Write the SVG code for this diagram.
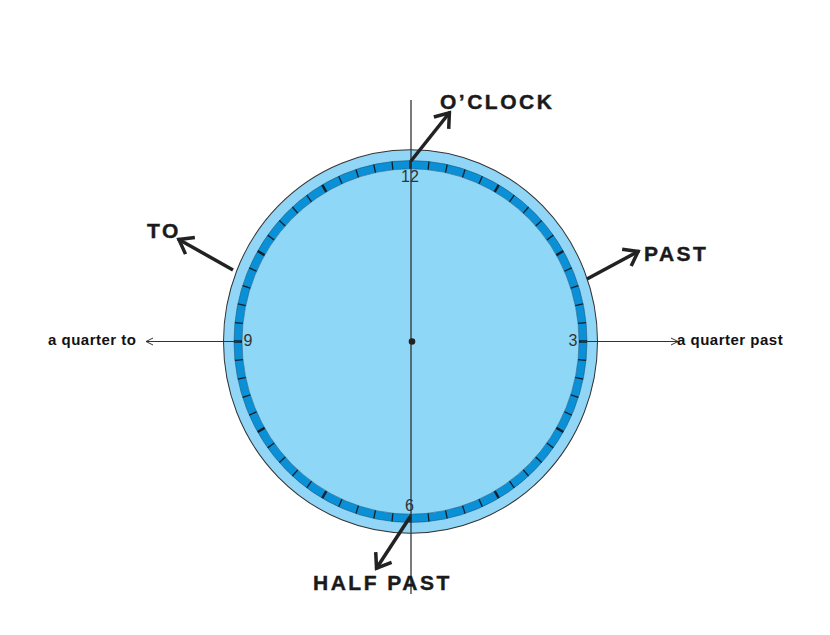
<svg xmlns="http://www.w3.org/2000/svg" xmlns:xlink="http://www.w3.org/1999/xlink" width="830" height="635" viewBox="0 0 830 635">
  <style>
    .big { font-family: "Liberation Sans", Arial, sans-serif; font-weight: bold; font-size: 21px; letter-spacing: 2.5px; fill: #1a1a1a; stroke: #1a1a1a; stroke-width: 0.4; }
    .small { font-family: "Liberation Sans", Arial, sans-serif; font-weight: bold; font-size: 15px; letter-spacing: 0.5px; fill: #111; }
    .num { font-family: "Liberation Sans", Arial, sans-serif; font-size: 16px; fill: #333; }
    .thick { stroke: #222; stroke-width: 3.5; fill: none; marker-end: url(#bigHead); }
    .thin { stroke: #333; stroke-width: 1; fill: none; marker-end: url(#smallHead); }
    .axis { stroke: #333; stroke-width: 1.3; fill: none; }
    .mt { stroke: #14202a; stroke-width: 1.3; }
    .ht { stroke: #14202a; stroke-width: 2.4; }
  </style>
  <defs>
    <marker id="bigHead" markerUnits="userSpaceOnUse" markerWidth="30" markerHeight="30" viewBox="-20 -15 30 30" refX="1" refY="0" orient="auto">
      <path d="M -13,-9.5 L 0,0 L -13,9.5" fill="none" stroke="#222" stroke-width="3.5" stroke-linejoin="miter"/>
    </marker>
    <marker id="smallHead" markerUnits="userSpaceOnUse" markerWidth="14" markerHeight="14" viewBox="-10 -7 14 14" refX="0" refY="0" orient="auto">
      <path d="M -7,-3.5 L 0,0 L -7,3.5" fill="none" stroke="#333" stroke-width="1"/>
    </marker>
    <line id="m" x1="0" y1="-176.5" x2="0" y2="-168.5" class="mt"/>
    <line id="h" x1="0" y1="-176.5" x2="0" y2="-168.5" class="ht"/>
  </defs>
  <rect width="830" height="635" fill="#ffffff"/>

  <g id="clock">
    <g transform="translate(410.5,341.5) scale(1,1.025)">
      <circle r="187" fill="#91d6f6" stroke="#333" stroke-width="1"/>
      <circle r="172.5" fill="none" stroke="#0a90d6" stroke-width="8"/>
      <circle r="176.5" fill="none" stroke="#1d5a80" stroke-width="0.6"/>
      <circle r="168.5" fill="#8fd7f6" stroke="#1d5a80" stroke-width="0.6"/>
      <g id="ticks">
        <use xlink:href="#h" transform="rotate(0)"/>
        <use xlink:href="#m" transform="rotate(6)"/>
        <use xlink:href="#m" transform="rotate(12)"/>
        <use xlink:href="#m" transform="rotate(18)"/>
        <use xlink:href="#m" transform="rotate(24)"/>
        <use xlink:href="#h" transform="rotate(30)"/>
        <use xlink:href="#m" transform="rotate(36)"/>
        <use xlink:href="#m" transform="rotate(42)"/>
        <use xlink:href="#m" transform="rotate(48)"/>
        <use xlink:href="#m" transform="rotate(54)"/>
        <use xlink:href="#h" transform="rotate(60)"/>
        <use xlink:href="#m" transform="rotate(66)"/>
        <use xlink:href="#m" transform="rotate(72)"/>
        <use xlink:href="#m" transform="rotate(78)"/>
        <use xlink:href="#m" transform="rotate(84)"/>
        <use xlink:href="#h" transform="rotate(90)"/>
        <use xlink:href="#m" transform="rotate(96)"/>
        <use xlink:href="#m" transform="rotate(102)"/>
        <use xlink:href="#m" transform="rotate(108)"/>
        <use xlink:href="#m" transform="rotate(114)"/>
        <use xlink:href="#h" transform="rotate(120)"/>
        <use xlink:href="#m" transform="rotate(126)"/>
        <use xlink:href="#m" transform="rotate(132)"/>
        <use xlink:href="#m" transform="rotate(138)"/>
        <use xlink:href="#m" transform="rotate(144)"/>
        <use xlink:href="#h" transform="rotate(150)"/>
        <use xlink:href="#m" transform="rotate(156)"/>
        <use xlink:href="#m" transform="rotate(162)"/>
        <use xlink:href="#m" transform="rotate(168)"/>
        <use xlink:href="#m" transform="rotate(174)"/>
        <use xlink:href="#h" transform="rotate(180)"/>
        <use xlink:href="#m" transform="rotate(186)"/>
        <use xlink:href="#m" transform="rotate(192)"/>
        <use xlink:href="#m" transform="rotate(198)"/>
        <use xlink:href="#m" transform="rotate(204)"/>
        <use xlink:href="#h" transform="rotate(210)"/>
        <use xlink:href="#m" transform="rotate(216)"/>
        <use xlink:href="#m" transform="rotate(222)"/>
        <use xlink:href="#m" transform="rotate(228)"/>
        <use xlink:href="#m" transform="rotate(234)"/>
        <use xlink:href="#h" transform="rotate(240)"/>
        <use xlink:href="#m" transform="rotate(246)"/>
        <use xlink:href="#m" transform="rotate(252)"/>
        <use xlink:href="#m" transform="rotate(258)"/>
        <use xlink:href="#m" transform="rotate(264)"/>
        <use xlink:href="#h" transform="rotate(270)"/>
        <use xlink:href="#m" transform="rotate(276)"/>
        <use xlink:href="#m" transform="rotate(282)"/>
        <use xlink:href="#m" transform="rotate(288)"/>
        <use xlink:href="#m" transform="rotate(294)"/>
        <use xlink:href="#h" transform="rotate(300)"/>
        <use xlink:href="#m" transform="rotate(306)"/>
        <use xlink:href="#m" transform="rotate(312)"/>
        <use xlink:href="#m" transform="rotate(318)"/>
        <use xlink:href="#m" transform="rotate(324)"/>
        <use xlink:href="#h" transform="rotate(330)"/>
        <use xlink:href="#m" transform="rotate(336)"/>
        <use xlink:href="#m" transform="rotate(342)"/>
        <use xlink:href="#m" transform="rotate(348)"/>
        <use xlink:href="#m" transform="rotate(354)"/>
      </g>
    </g>
    <text class="num" x="410" y="182" text-anchor="middle">12</text>
    <text class="num" x="248" y="346" text-anchor="middle">9</text>
    <text class="num" x="573" y="346" text-anchor="middle">3</text>
    <text class="num" x="409.5" y="511" text-anchor="middle">6</text>
  </g>

  <g id="connectors">
    <line class="axis" x1="411" y1="100" x2="411" y2="594"/>
    <line class="thin" x1="240" y1="341.5" x2="146" y2="341.5"/>
    <line class="thin" x1="581" y1="341.5" x2="678" y2="341.5"/>
    <line class="thick" x1="411" y1="161" x2="450" y2="112"/>
    <line class="thick" x1="233" y1="270" x2="178" y2="239"/>
    <line class="thick" x1="587" y1="279" x2="639" y2="251"/>
    <line class="thick" x1="410" y1="517" x2="376" y2="569"/>
    <circle cx="412" cy="341.5" r="3.3" fill="#222"/>
  </g>

  <g id="label-oclock"><text class="big" x="440" y="109">O’CLOCK</text></g>
  <g id="label-to"><text class="big" x="147" y="238">TO</text></g>
  <g id="label-past"><text class="big" x="644" y="261">PAST</text></g>
  <g id="label-halfpast"><text class="big" x="313" y="590">HALF PAST</text></g>
  <g id="label-quarter-to"><text class="small" x="48" y="345">a quarter to</text></g>
  <g id="label-quarter-past"><text class="small" x="677" y="345">a quarter past</text></g>
</svg>
